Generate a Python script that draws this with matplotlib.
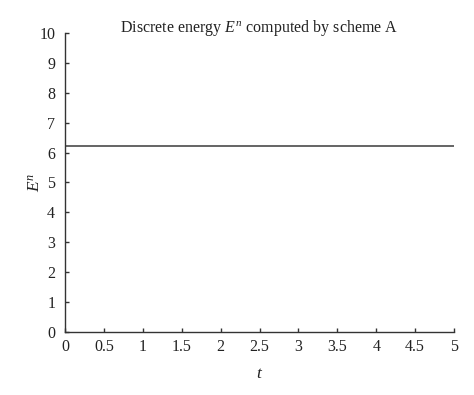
import numpy as np
import matplotlib
matplotlib.use("Agg")
import matplotlib.pyplot as plt

plt.rcParams['font.family'] = 'Liberation Serif'
plt.rcParams['mathtext.fontset'] = 'custom'
plt.rcParams['mathtext.rm'] = 'Liberation Serif'
plt.rcParams['mathtext.it'] = 'Liberation Serif:italic'

# energy over time (constant)
t = [0, 0.5, 1, 1.5, 2, 2.5, 3, 3.5, 4, 4.5, 5]
energy = [6.22, 6.22, 6.22, 6.22, 6.22, 6.22, 6.22, 6.22, 6.22, 6.22, 6.22]
xticks = [0, 0.5, 1, 1.5, 2, 2.5, 3, 3.5, 4, 4.5, 5]
xticklabels = ['0', '0.5', '1', '1.5', '2', '2.5', '3', '3.5', '4', '4.5', '5']
yticks = [0, 1, 2, 3, 4, 5, 6, 7, 8, 9, 10]

fig = plt.figure(figsize=(4.74, 3.95), dpi=100)
ax = fig.add_axes([0.137, 0.160, 0.821, 0.756])

ax.plot(t, energy, color='#3a3a3a', linewidth=1.1)

ax.set_xlim(0, 5)
ax.set_ylim(0, 10)
ax.set_xticks(xticks)
ax.set_xticklabels(xticklabels)
ax.set_yticks(yticks)

for s in ['top', 'right']:
    ax.spines[s].set_visible(False)
for s in ['left', 'bottom']:
    ax.spines[s].set_color('#333333')
    ax.spines[s].set_linewidth(1.0)

ax.tick_params(direction='in', length=3, width=1, colors='#333333',
               labelcolor='#222222', labelsize=11.5)
ax.tick_params(axis='y', pad=7)
ax.tick_params(axis='x', pad=5)

ax.set_title('Discrete energy $E^n$ computed by scheme A', fontsize=11.5, color='#222222',
             y=1.0, pad=1)
ax.set_xlabel('$t$', fontsize=12.5, color='#222222', labelpad=8)
ax.set_ylabel('$E^n$', fontsize=12.5, color='#222222', labelpad=-3)

fig.savefig('out.png', dpi=100)
